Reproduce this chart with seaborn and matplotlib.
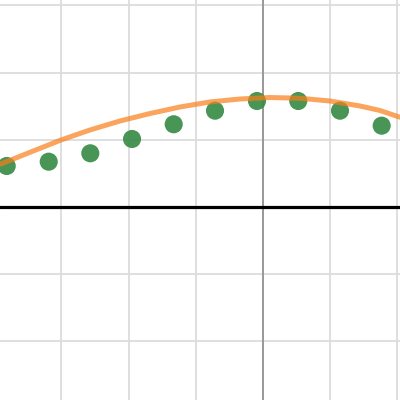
import numpy as np
import pandas as pd
import matplotlib
matplotlib.use("Agg")
import matplotlib.pyplot as plt
import seaborn as sns

# pixel scale of the reference: 67.2 px per grid unit, origin at (263, 207)
# data points (green dots)
dot_x = [-3.814, -3.189, -2.570, -1.949, -1.329, -0.714, -0.089, 0.525, 1.146, 1.766]
dot_y = [0.610, 0.674, 0.799, 1.012, 1.231, 1.433, 1.577, 1.577, 1.433, 1.210]

# fitted curve (orange)
curve_x = [-3.914, -3.467, -3.006, -2.574, -2.128, -1.682, -1.235, -0.789,
           -0.342, 0.104, 0.551, 0.997, 1.443, 1.741, 2.039]
curve_y = [0.635, 0.814, 0.997, 1.146, 1.280, 1.391, 1.488, 1.563,
           1.607, 1.629, 1.618, 1.577, 1.503, 1.436, 1.335]

dots = pd.DataFrame({"x": dot_x, "y": dot_y})
curve = pd.DataFrame({"x": curve_x, "y": curve_y})

sns.set_style("white")
fig = plt.figure(figsize=(4, 4), dpi=100)
ax = fig.add_axes([0, 0, 1, 1])

ax.set_xlim(-3.914, 2.039)
ax.set_ylim(-2.872, 3.080)
ax.set_xticks(range(-3, 3))
ax.set_yticks(range(-2, 4))
ax.grid(True, color="#dcdcdc", linewidth=1.3, zorder=0)
ax.tick_params(length=0, labelbottom=False, labelleft=False)
for s in ax.spines.values():
    s.set_visible(False)

ax.axvline(0, color="#999999", linewidth=1.4, zorder=1)
ax.axhline(0, color="black", linewidth=2.3, zorder=1)

sns.scatterplot(data=dots, x="x", y="y", ax=ax, s=170, color="#388c46",
                alpha=0.92, edgecolor="none", zorder=3)
sns.lineplot(data=curve, x="x", y="y", ax=ax, color="#fa7e19", alpha=0.7,
             linewidth=3.6, zorder=4)
ax.set_xlabel("")
ax.set_ylabel("")

fig.savefig("out.png", dpi=100)
